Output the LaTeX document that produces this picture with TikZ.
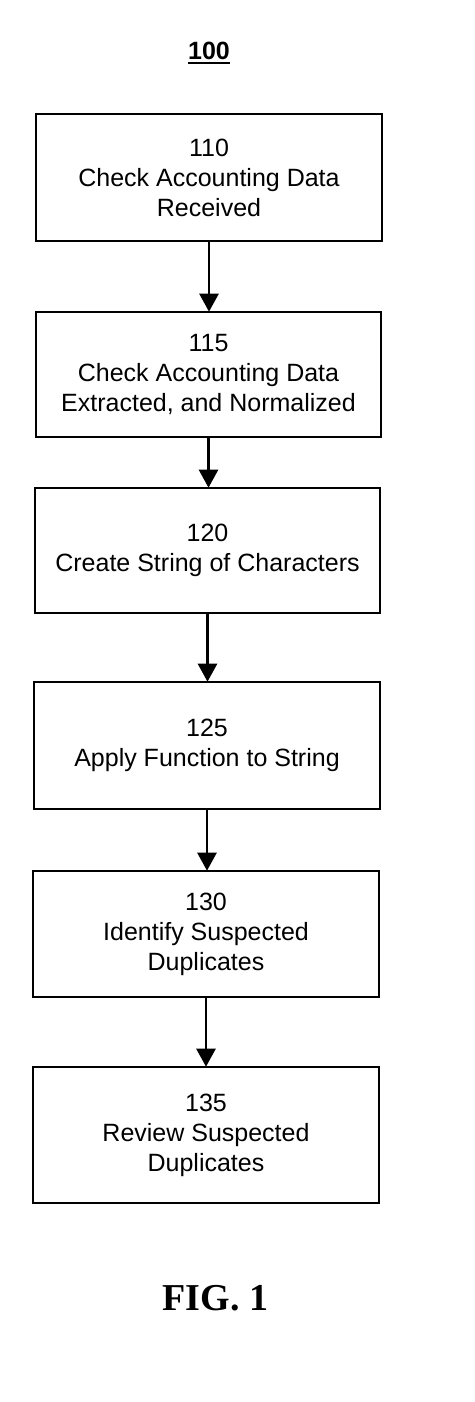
\documentclass[tikz,border=0pt]{standalone}
\usepackage{fontspec}
\setmainfont{Liberation Sans}
\newfontfamily\figfont{Liberation Serif}
\usetikzlibrary{arrows.meta}
\tikzset{
  stepbox/.style={draw=black, line width=2.6pt, align=center, inner sep=0pt,
    minimum width=346pt, font=\fontsize{25}{30}\selectfont},
  flow/.style={line width=2.6pt, -{Triangle[length=18pt,width=19pt]}, shorten >=-1pt}
}
\begin{document}
\begin{tikzpicture}[x=1pt,y=-1pt]
\useasboundingbox[fill=white] (0,0) rectangle (474,1402);
\node[font=\fontsize{25}{30}\selectfont\bfseries, inner sep=0pt, anchor=base] (title) at (209,60) {100};
\draw[line width=1.6pt] ([yshift=-3pt]title.base west) -- ([yshift=-3pt]title.base east);

\node[stepbox, minimum height=127pt] (b1) at (209,177.5) {110\\Check Accounting Data\\Received};
\node[stepbox, minimum height=125pt, minimum width=345pt] (b2) at (208.5,374.5) {115\\Check Accounting Data\\Extracted, and Normalized};
\node[stepbox, minimum height=125pt, minimum width=345pt] (b3) at (207.5,550.5) {120\\Create String of Characters};
\node[stepbox, minimum height=127pt] (b4) at (207,745.5) {125\\Apply Function to String};
\node[stepbox, minimum height=126pt] (b5) at (206,934) {130\\Identify Suspected\\Duplicates};
\node[stepbox, minimum height=136pt] (b6) at (206,1135) {135\\Review Suspected\\Duplicates};

\draw[flow] (b1.south) -- (b1.south |- b2.north);
\draw[flow] (b2.south) -- (b2.south |- b3.north);
\draw[flow] (b3.south) -- (b3.south |- b4.north);
\draw[flow] (b4.south) -- (b4.south |- b5.north);
\draw[flow] (b5.south) -- (b5.south |- b6.north);

\node[font=\figfont\fontsize{38}{40}\selectfont\bfseries, inner sep=0pt, anchor=base] (fig) at (215.5,1310) {FIG. 1};
\end{tikzpicture}
\end{document}
